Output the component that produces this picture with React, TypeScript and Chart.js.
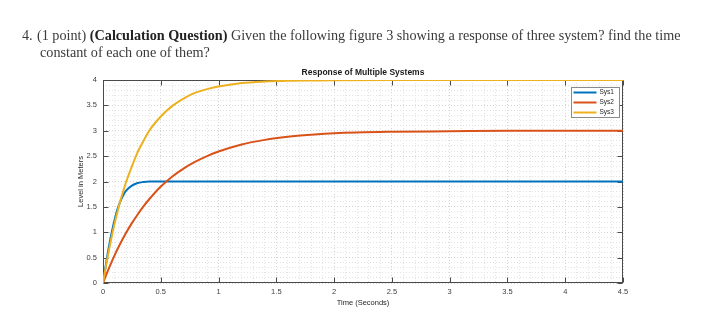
import React, { useEffect, useRef } from "react";
import { Chart, registerables } from "chart.js";

Chart.register(...registerables);

// ---- data ----
const times = [0, 0.025, 0.05, 0.075, 0.1, 0.125, 0.15, 0.175, 0.2, 0.25, 0.3, 0.35, 0.4, 0.5, 0.6, 0.7, 0.8, 0.9, 1.0, 1.2, 1.4, 1.6, 1.8, 2.0, 2.5, 3.0, 3.5, 4.0, 4.5];
const sys1 = [0, 0.36, 0.7, 0.99, 1.24, 1.45, 1.61, 1.73, 1.82, 1.92, 1.97, 1.99, 2, 2, 2, 2, 2, 2, 2, 2, 2, 2, 2, 2, 2, 2, 2, 2, 2];
const sys2 = [0, 0.146, 0.285, 0.418, 0.544, 0.664, 0.778, 0.887, 0.99, 1.18, 1.35, 1.51, 1.65, 1.9, 2.1, 2.26, 2.39, 2.5, 2.59, 2.73, 2.82, 2.88, 2.92, 2.95, 2.98, 2.99, 3.0, 3.0, 3.0];
const sys3 = [0, 0.33, 0.63, 0.91, 1.17, 1.4, 1.62, 1.81, 1.99, 2.3, 2.58, 2.8, 3.0, 3.28, 3.49, 3.64, 3.75, 3.82, 3.87, 3.94, 3.97, 3.985, 3.99, 3.995, 4.0, 4.0, 4.0, 4.0, 4.0];
const seriesNames = ["Sys1", "Sys2", "Sys3"];
const seriesColors = ["#0072BD", "#D95319", "#EDB120"];
const xMajorTicks = [0, 0.5, 1, 1.5, 2, 2.5, 3, 3.5, 4, 4.5];
const yMajorTicks = [0, 0.5, 1, 1.5, 2, 2.5, 3, 3.5, 4];
const chartTitle = "Response of Multiple Systems";
const xAxisTitle = "Time (Seconds)";
const yAxisTitle = "Level in Meters";
const questionNumber = "4.";
const questionLead = "(1 point) ";
const questionBold = "(Calculation Question)";
const questionRest = " Given the following figure 3 showing a response of three system? find the time";
const questionLine2 = "constant of each one of them?";

const isMajor = (v: number) => Math.abs(v * 2 - Math.round(v * 2)) < 1e-6;
const fmt = (v: number) => String(Math.round(v * 10) / 10);

const matlabPlugin = {
  id: "matlabDecor",
  beforeDatasetsDraw(chart: any) {
    const { ctx, chartArea: a, scales } = chart;
    ctx.save();
    ctx.strokeStyle = "#4a4a4a";
    ctx.lineWidth = 1;
    ctx.beginPath();
    const L = Math.round(a.left) + 0.5;
    const R = Math.round(a.right) - 0.5;
    const T = Math.round(a.top) + 0.5;
    const B = Math.round(a.bottom) - 0.5;
    for (const v of xMajorTicks) {
      const px = Math.round(scales.x.getPixelForValue(v)) + 0.5;
      ctx.moveTo(px, B);
      ctx.lineTo(px, B - 5);
      ctx.moveTo(px, T);
      ctx.lineTo(px, T + 5);
    }
    for (const v of yMajorTicks) {
      const py = Math.round(scales.y.getPixelForValue(v)) + 0.5;
      ctx.moveTo(L, py);
      ctx.lineTo(L + 5, py);
      ctx.moveTo(R, py);
      ctx.lineTo(R - 5, py);
    }
    ctx.stroke();
    ctx.strokeRect(L, T, R - L, B - T);
    // title
    ctx.fillStyle = "#1a1a1a";
    ctx.font = "bold 8.5px 'Liberation Sans'";
    ctx.textAlign = "center";
    ctx.textBaseline = "middle";
    ctx.fillText(chartTitle, (a.left + a.right) / 2, a.top - 7.5);
    ctx.restore();
  },
  afterDatasetsDraw(chart: any) {
    const { ctx, chartArea: a } = chart;
    const ds = chart.data.datasets;
    ctx.save();
    const bx = Math.round(a.right) - 51.5;
    const by = Math.round(a.top) + 7.5;
    const bw = 48;
    const bh = 30;
    ctx.fillStyle = "#ffffff";
    ctx.fillRect(bx, by, bw, bh);
    ctx.strokeStyle = "#8a8a8a";
    ctx.lineWidth = 1;
    ctx.strokeRect(bx, by, bw, bh);
    ctx.font = "6.5px 'Liberation Sans'";
    ctx.textAlign = "left";
    ctx.textBaseline = "middle";
    ds.forEach((d: any, i: number) => {
      const y = by + 5 + i * 10;
      ctx.strokeStyle = d.borderColor;
      ctx.lineWidth = 2;
      ctx.beginPath();
      ctx.moveTo(bx + 2, y);
      ctx.lineTo(bx + 25, y);
      ctx.stroke();
      ctx.fillStyle = "#262626";
      ctx.fillText(d.label, bx + 28, y);
    });
    ctx.restore();
  },
};

export default function App() {
  const canvasRef = useRef<HTMLCanvasElement | null>(null);

  useEffect(() => {
    if (!canvasRef.current) return;
    Chart.defaults.font.family = "'Liberation Sans'";
    const series = [sys1, sys2, sys3];
    const chart = new Chart(canvasRef.current, {
      type: "line",
      data: {
        datasets: series.map((vals, i) => ({
          label: seriesNames[i],
          data: times.map((t, k) => ({ x: t, y: vals[k] })),
          borderColor: seriesColors[i],
          backgroundColor: seriesColors[i],
          borderWidth: 2,
          pointRadius: 0,
          cubicInterpolationMode: "monotone" as const,
          fill: false,
          order: 2 - i,
        })),
      },
      options: {
        responsive: false,
        animation: false,
        devicePixelRatio: 1,
        layout: { padding: { top: 80, right: 97, left: 0, bottom: 0 } },
        plugins: {
          legend: { display: false },
          tooltip: { enabled: false },
          title: { display: false },
        },
        scales: {
          x: {
            type: "linear",
            min: 0,
            max: 4.5,
            afterFit: (s: any) => {
              s.height = 40;
            },
            ticks: {
              stepSize: 0.1,
              autoSkip: false,
              maxRotation: 0,
              padding: 4,
              color: "#404040",
              font: { size: 7.5 },
              callback: (v: any) => (isMajor(Number(v)) ? fmt(Number(v)) : ""),
            },
            grid: {
              drawTicks: false,
              color: (c: any) => (isMajor(c.tick.value) ? "#d4d4d4" : "#e4e4e4"),
              lineWidth: 1,
            },
            border: { display: false, dash: [1, 2] },
            title: {
              display: true,
              text: xAxisTitle,
              color: "#262626",
              font: { size: 7.5 },
              padding: { top: 0, bottom: 16 },
            },
          },
          y: {
            type: "linear",
            min: 0,
            max: 4,
            afterFit: (s: any) => {
              s.width = 103;
            },
            ticks: {
              stepSize: 0.1,
              autoSkip: false,
              padding: 6,
              color: "#404040",
              font: { size: 7.5 },
              callback: (v: any) => (isMajor(Number(v)) ? fmt(Number(v)) : ""),
            },
            grid: {
              drawTicks: false,
              color: (c: any) => (isMajor(c.tick.value) ? "#d4d4d4" : "#e4e4e4"),
              lineWidth: 1,
            },
            border: { display: false, dash: [1, 2] },
            title: {
              display: true,
              text: yAxisTitle,
              color: "#262626",
              font: { size: 7.5 },
              padding: { top: 76, bottom: 0 },
            },
          },
        },
      },
      plugins: [matlabPlugin],
    });
    return () => chart.destroy();
  }, []);

  const textStyle: React.CSSProperties = {
    position: "absolute",
    fontFamily: "'Liberation Serif', serif",
    fontSize: "14.2px",
    lineHeight: "17px",
    color: "#3a3a3a",
    whiteSpace: "nowrap",
  };

  return (
    <div style={{ position: "absolute", left: 0, top: 0, width: 720, height: 323, background: "#fff", overflow: "hidden" }}>
      <canvas ref={canvasRef} width={720} height={323} style={{ position: "absolute", left: 0, top: 0, width: 720, height: 323 }} />
      <div style={{ ...textStyle, left: 22, top: 27 }}>{questionNumber}</div>
      <div style={{ ...textStyle, left: 37, top: 27 }}>
        {questionLead}
        <b style={{ color: "#222" }}>{questionBold}</b>
        {questionRest}
      </div>
      <div style={{ ...textStyle, left: 40, top: 44 }}>{questionLine2}</div>
    </div>
  );
}
